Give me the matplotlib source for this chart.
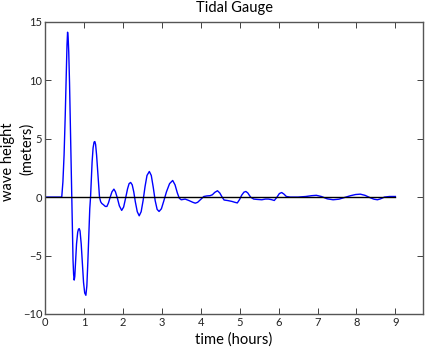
import matplotlib
matplotlib.use("Agg")
import matplotlib.pyplot as plt
from matplotlib.ticker import FixedLocator

plt.rcParams['font.family'] = ['Lato', 'DejaVu Sans']

# time (hours) and wave height (meters)
time_h = [0.00, 0.43, 0.46, 0.49, 0.52, 0.55, 0.565, 0.58, 0.595, 0.61, 0.63, 0.65,
          0.67, 0.69, 0.705, 0.72, 0.735, 0.75, 0.765, 0.785, 0.81, 0.84, 0.86, 0.88,
          0.90, 0.93, 0.96, 0.99, 1.02, 1.05, 1.075, 1.10, 1.125, 1.15, 1.17, 1.19,
          1.21, 1.235, 1.26, 1.28, 1.30, 1.325, 1.35, 1.375, 1.40, 1.43, 1.46, 1.50,
          1.55, 1.59, 1.63, 1.68, 1.72, 1.77, 1.81, 1.86, 1.91, 1.97, 2.02, 2.07,
          2.12, 2.16, 2.20, 2.24, 2.28, 2.32, 2.37, 2.42, 2.47, 2.52, 2.57, 2.62,
          2.68, 2.73, 2.78, 2.83, 2.88, 2.93, 2.99, 3.05, 3.12, 3.20, 3.28, 3.34,
          3.40, 3.45, 3.50, 3.55, 3.60, 3.70, 3.80, 3.86, 3.92, 4.00, 4.08, 4.16,
          4.24, 4.30, 4.36, 4.43, 4.49, 4.55, 4.60, 4.70, 4.80, 4.88, 4.94, 5.00,
          5.05, 5.11, 5.16, 5.21, 5.28, 5.36, 5.45, 5.57, 5.66, 5.74, 5.82, 5.89,
          5.95, 6.02, 6.08, 6.14, 6.20, 6.30, 6.50, 6.70, 6.85, 6.97, 7.10, 7.25,
          7.40, 7.55, 7.70, 7.85, 7.98, 8.10, 8.22, 8.35, 8.45, 8.54, 8.62, 8.72,
          8.85, 9.00]
height_m = [0.0, 0.0, 1.3, 3.6, 7.0, 11.0, 13.0, 14.1, 13.6, 12.4, 9.8, 6.5,
            3.2, 0.0, -3.0, -5.4, -6.6, -7.1, -6.8, -5.6, -4.0, -3.0, -2.75, -2.7,
            -2.9, -4.0, -5.6, -7.3, -8.2, -8.4, -7.6, -5.6, -3.2, -1.0, 0.0, 1.6,
            3.0, 4.2, 4.7, 4.75, 4.5, 3.6, 2.4, 1.1, 0.0, -0.4, -0.55, -0.65,
            -0.8, -0.8, -0.5, 0.05, 0.45, 0.68, 0.45, -0.1, -0.75, -1.14, -0.85, -0.1,
            0.7, 1.15, 1.25, 1.05, 0.45, -0.4, -1.25, -1.6, -1.25, -0.3, 0.9, 1.85,
            2.19, 1.85, 0.85, -0.3, -1.05, -1.23, -1.0, -0.35, 0.45, 1.15, 1.42, 1.05,
            0.35, -0.1, -0.23, -0.2, -0.17, -0.3, -0.45, -0.52, -0.45, -0.2, 0.05, 0.1,
            0.12, 0.2, 0.4, 0.54, 0.35, 0.0, -0.25, -0.3, -0.37, -0.45, -0.5, -0.2,
            0.15, 0.42, 0.48, 0.35, 0.0, -0.17, -0.2, -0.23, -0.17, -0.17, -0.22, -0.29,
            -0.05, 0.3, 0.39, 0.25, 0.05, 0.0, 0.0, 0.05, 0.12, 0.15, 0.05, -0.15,
            -0.23, -0.18, -0.03, 0.12, 0.22, 0.25, 0.15, -0.05, -0.18, -0.23, -0.15, 0.0,
            0.05, 0.05]
baseline_t = [0.0, 9.0]
baseline_h = [0.0, 0.0]

xticks = [0, 1, 2, 3, 4, 5, 6, 7, 8, 9]
yticks = [-10, -5, 0, 5, 10, 15]

fig = plt.figure(figsize=(4.25, 3.47), dpi=100)
ax = fig.add_axes([45/425, 1 - 314/347, (423-45)/425, (314-21.7)/347])

ax.plot(time_h, height_m, color='#0000ff', lw=1.0)
ax.plot(baseline_t, baseline_h, color='black', lw=1.0)

ax.set_xlim(0, 9.71)
ax.set_ylim(-10, 15)
ax.xaxis.set_major_locator(FixedLocator(xticks))
ax.yaxis.set_major_locator(FixedLocator(yticks))
ax.tick_params(direction='in', length=4, width=0.6, top=True, right=True,
               labelsize=8, pad=2, colors='#222222')
for s in ax.spines.values():
    s.set_color('#555555')
    s.set_linewidth(1.0)

ax.set_title('Tidal Gauge', fontsize=10.5, pad=7)
ax.set_xlabel('time (hours)', fontsize=10.6, labelpad=3)
fig.text(1/425, 1 - 162/347, 'wave height\n(meters)', rotation=90,
         ha='left', va='center', multialignment='right',
         fontsize=10.5, linespacing=1.4)

fig.savefig('out.png', dpi=100)
